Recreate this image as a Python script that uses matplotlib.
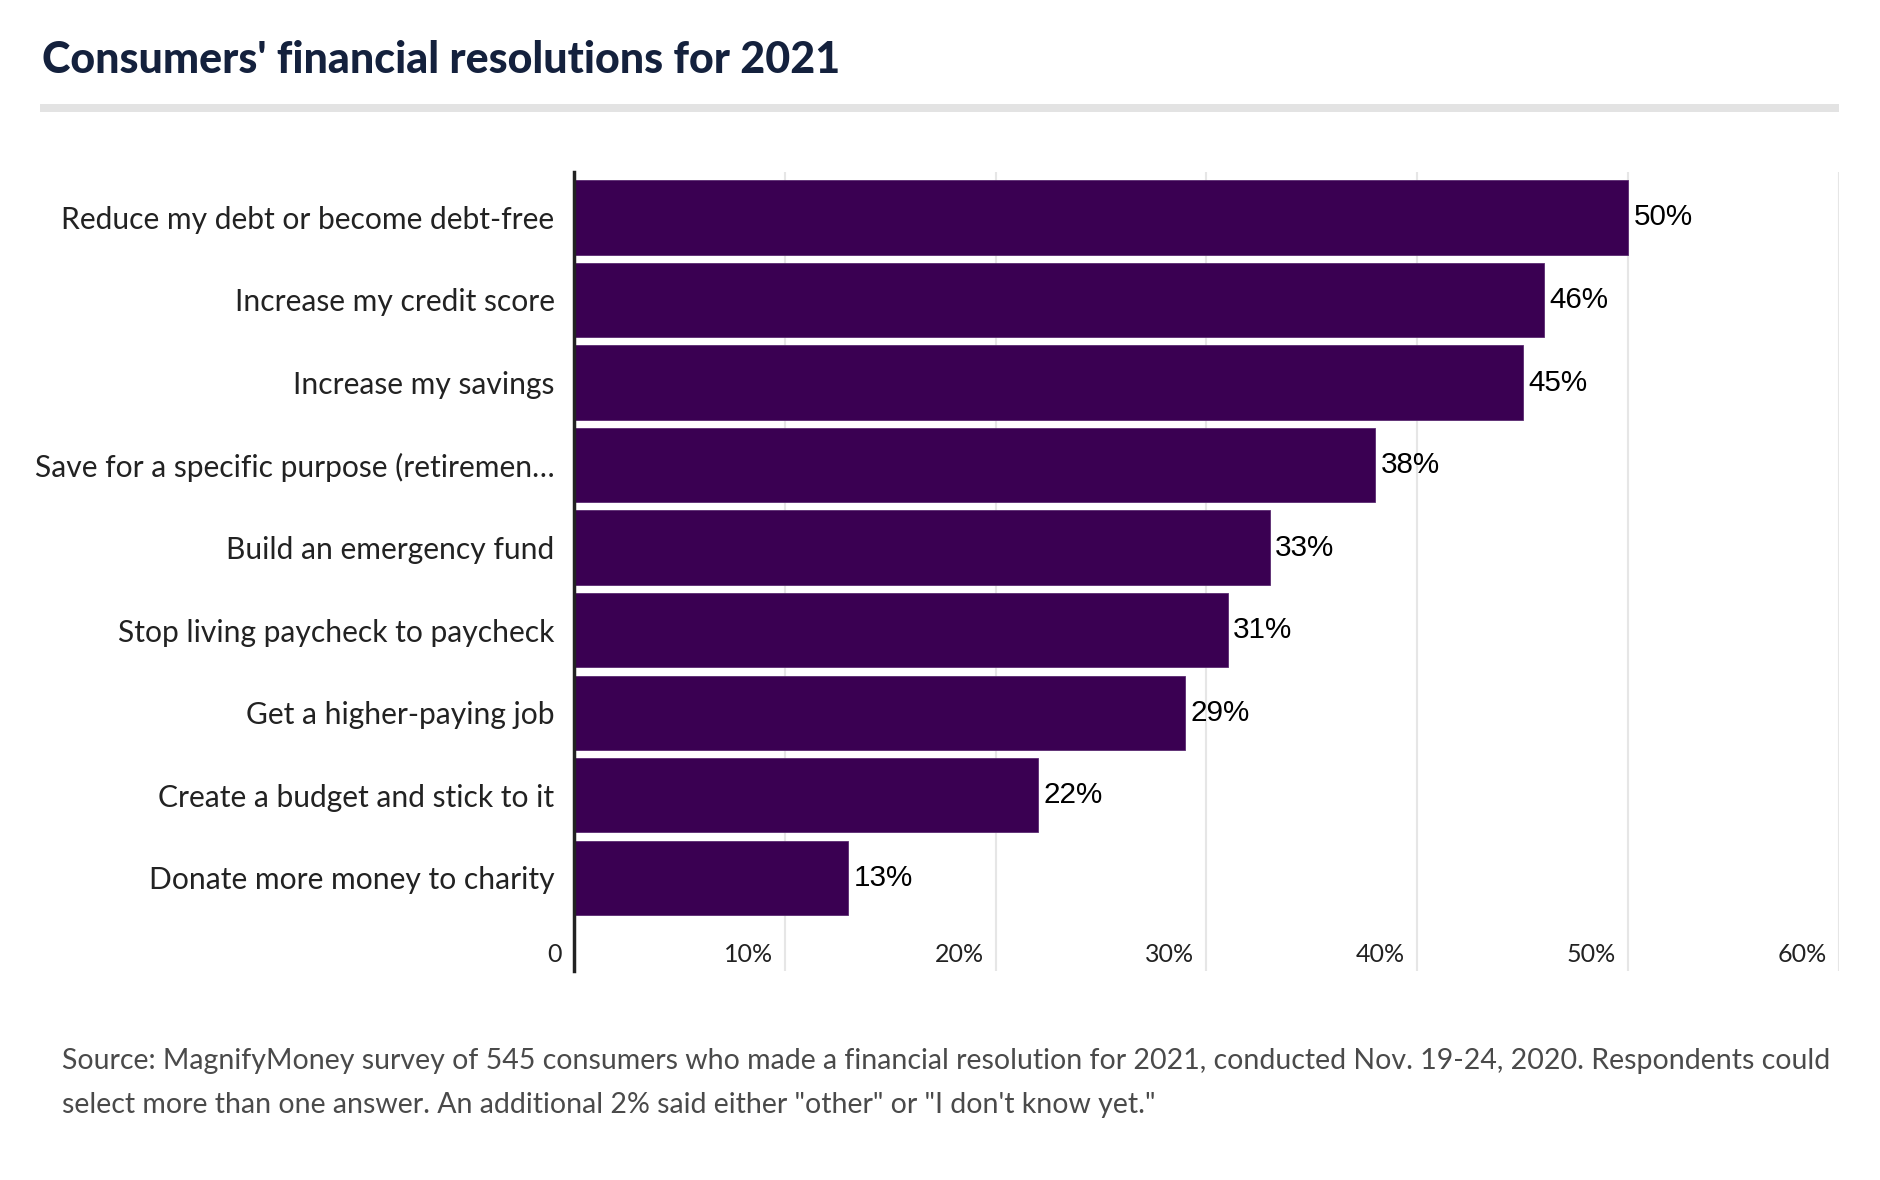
"""Horizontal bar chart: consumers' financial resolutions for 2021."""

import matplotlib.pyplot as plt
import matplotlib.transforms as mtransforms
from matplotlib.patches import Rectangle

plt.rcParams.update(
    {
        "font.family": ["Lato", "DejaVu Sans"],
        "figure.facecolor": "white",
        "axes.facecolor": "white",
    }
)

# ---------------------------------------------------------------------------
# Data
# ---------------------------------------------------------------------------
TITLE = "Consumers' financial resolutions for 2021"
CATEGORIES = [
    "Reduce my debt or become debt-free",
    "Increase my credit score",
    "Increase my savings",
    "Save for a specific purpose (retiremen…",
    "Build an emergency fund",
    "Stop living paycheck to paycheck",
    "Get a higher-paying job",
    "Create a budget and stick to it",
    "Donate more money to charity",
]
VALUES = [50, 46, 45, 38, 33, 31, 29, 22, 13]
X_TICKS = [0, 10, 20, 30, 40, 50, 60]
X_TICK_LABELS = ["0", "10%", "20%", "30%", "40%", "50%", "60%"]
FOOTNOTE = (
    "Source: MagnifyMoney survey of 545 consumers who made a financial resolution for 2021, "
    "conducted Nov. 19-24, 2020. Respondents could\n"
    "select more than one answer. An additional 2% said either \"other\" or \"I don't know yet.\""
)

BAR_COLOR = "#3a0052"
TITLE_COLOR = "#14213d"
TEXT_COLOR = "#222222"

fig = plt.figure(figsize=(18.8, 11.8), dpi=100)
ax = fig.add_axes([0.3053, 0.1771, 0.6729, 0.6771])

positions = list(range(len(CATEGORIES)))
bars = ax.barh(positions, VALUES, height=0.9, color=BAR_COLOR, edgecolor="#5a2a70", linewidth=0.6, zorder=3)
value_labels = ax.bar_label(bars, labels=[f"{v}%" for v in VALUES], padding=4, fontsize=21.3,
                            family=["Liberation Sans", "DejaVu Sans"], color="black")
nudge = mtransforms.ScaledTranslation(0, -0.015, fig.dpi_scale_trans)
for t in value_labels:
    t.set_transform(t.get_transform() + nudge)

ax.set_xlim(0, 60)
ax.set_ylim(len(CATEGORIES) - 1 + 1.13, -0.55)

ax.set_yticks(positions, CATEGORIES)
ax.tick_params(axis="y", length=0, pad=14, labelsize=21.6, labelcolor=TEXT_COLOR)

ax.set_xticks(X_TICKS, X_TICK_LABELS)
ax.tick_params(axis="x", length=0, pad=0, labelsize=18, labelcolor=TEXT_COLOR)
offset = mtransforms.ScaledTranslation(-0.12, 0.28, fig.dpi_scale_trans)
for label in ax.get_xticklabels():
    label.set_horizontalalignment("right")
    label.set_transform(label.get_transform() + offset)

ax.grid(True, axis="x", color="#e6e6e6", linewidth=1.5, zorder=0)
ax.grid(False, axis="y")
for side in ("top", "right", "bottom"):
    ax.spines[side].set_visible(False)
ax.spines["left"].set_color("#222222")
ax.spines["left"].set_linewidth(2.5)
ax.spines["left"].set_zorder(4)

# Title and grey rule underneath it
fig.text(0.0223, 0.949, TITLE, fontsize=31, fontweight="black", color=TITLE_COLOR, va="center", ha="left")
fig.add_artist(Rectangle((0.0213, 0.9051), 0.957, 0.0068, transform=fig.transFigure,
                         facecolor="#e3e3e3", edgecolor="none"))

fig.text(0.033, 0.1017 + 0.010, FOOTNOTE, fontsize=20.5, color="#4a4a4a", va="top", ha="left", linespacing=1.84)

fig.savefig("out.png", dpi=100, facecolor="white")
